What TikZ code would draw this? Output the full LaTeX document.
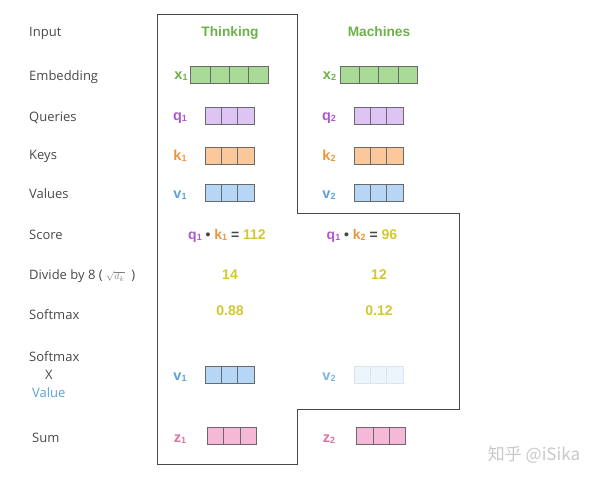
\documentclass[tikz,border=0pt]{standalone}
\usepackage{fontspec}
\setmainfont{Open Sans}
\newfontfamily\boldface{Liberation Sans}[BoldFont={Liberation Sans Bold}]
\newfontfamily\cjkfont{Noto Sans CJK SC}
\usetikzlibrary{positioning}

\definecolor{labelgray}{RGB}{72,72,72}
\definecolor{wordgreen}{RGB}{106,178,72}
\definecolor{xfill}{RGB}{170,218,152}
\definecolor{qtext}{RGB}{170,90,202}
\definecolor{qfill}{RGB}{222,196,245}
\definecolor{ktext}{RGB}{234,150,62}
\definecolor{kfill}{RGB}{250,200,155}
\definecolor{vtext}{RGB}{90,160,222}
\definecolor{vfill}{RGB}{182,214,246}
\definecolor{vfaint}{RGB}{236,244,252}
\definecolor{vfaintline}{RGB}{218,228,240}
\definecolor{ztext}{RGB}{224,112,160}
\definecolor{zfill}{RGB}{245,184,214}
\definecolor{numcol}{RGB}{208,200,48}
\definecolor{cellline}{RGB}{105,105,105}
\definecolor{markgray}{RGB}{200,200,200}

% one row of cells: name, left x, centre y, number of cells, cell width, fill, line
\newcommand{\cellrow}[7]{%
  \foreach \i in {1,...,#4}
    \node[cell,fill=#6,draw=#7,minimum width=#5pt] (#1-\i) at ({#2+(\i-0.5)*#5},#3) {};
}
% small index sitting on the baseline
\newcommand{\idx}[1]{\raisebox{-1pt}{\fontsize{9}{9}\selectfont #1}}

\begin{document}
\begin{tikzpicture}[x=1pt,y=-1pt]
\tikzstyle{rowlabel}=[anchor=west,inner sep=0pt,text=labelgray,font=\fontsize{13}{15}\selectfont,text height=9.5pt,text depth=0pt]
\tikzstyle{word}=[inner sep=0pt,text=wordgreen,font=\boldface\bfseries\fontsize{13.7}{16}\selectfont,text height=9.8pt,text depth=0pt]
\tikzstyle{veclabel}=[inner sep=0pt,font=\boldface\bfseries\fontsize{14.5}{16}\selectfont,text height=7.5pt,text depth=0pt]
\tikzstyle{num}=[inner sep=0pt,text=numcol,font=\boldface\bfseries\fontsize{14}{16}\selectfont,text height=10pt,text depth=0pt]
\tikzstyle{cell}=[rectangle,minimum height=17pt,inner sep=0pt,outer sep=0pt,line width=0.8pt]
\useasboundingbox (0,0) rectangle (600,478);

% row labels
\node[rowlabel] (input) at (29,31.5) {Input};
\node[rowlabel] (embed) at (29,75.5) {Embedding};
\node[rowlabel] (queries) at (29,116.5) {Queries};
\node[rowlabel] (keys) at (29,155) {Keys};
\node[rowlabel] (values) at (29,194) {Values};
\node[rowlabel] (score) at (29,234.5) {Score};
\node[rowlabel] (divide) at (29,275) {Divide by 8 ( {\color{gray}\fontsize{10}{10}\selectfont$\sqrt{d_k}$} \ )};
\node[rowlabel] (softmax) at (29,315) {Softmax};
\node[rowlabel] (smx) at (29,357) {Softmax};
\node[rowlabel,anchor=center] (times) at (49,374.7) {X};
\node[rowlabel,text=vtext] (value) at (32,392.7) {Value};
\node[rowlabel] (sum) at (32,437.7) {Sum};

% outline of the first word
\draw[line width=1pt,draw=labelgray] (157,15) -- (297,15) -- (297,214) -- (459,214)
  -- (459,409) -- (297,409) -- (297,464) -- (157,464) -- cycle;

% words
\node[word] (thinking) at (230,31.5) {Thinking};
\node[word] (machines) at (379,31.5) {Machines};

% vectors of word 1
\node[veclabel,text=wordgreen] (x1) at (181,76) {x\idx{1}};
\cellrow{xa}{190.7}{74.8}{4}{19.3}{xfill}{cellline}
\node[veclabel,text=qtext] (q1) at (180,117) {q\idx{1}};
\cellrow{qa}{205}{115.5}{3}{16.3}{qfill}{cellline}
\node[veclabel,text=ktext] (k1) at (180,157) {k\idx{1}};
\cellrow{ka}{205}{156.2}{3}{16.3}{kfill}{cellline}
\node[veclabel,text=vtext] (v1) at (180,194.5) {v\idx{1}};
\cellrow{va}{205}{192.8}{3}{16.3}{vfill}{cellline}

% vectors of word 2
\node[veclabel,text=wordgreen] (x2) at (329.5,76) {x\idx{2}};
\cellrow{xb}{340}{74.8}{4}{19.3}{xfill}{cellline}
\node[veclabel,text=qtext] (q2) at (329,117) {q\idx{2}};
\cellrow{qb}{354}{115.5}{3}{16.3}{qfill}{cellline}
\node[veclabel,text=ktext] (k2) at (329,157) {k\idx{2}};
\cellrow{kb}{354}{156.2}{3}{16.3}{kfill}{cellline}
\node[veclabel,text=vtext] (v2) at (329,194.5) {v\idx{2}};
\cellrow{vb}{354}{192.8}{3}{16.3}{vfill}{cellline}

% scores
\node[num,text=labelgray] (scorea) at (227,235) {{\color{qtext}q\idx{1}}\ \textbullet\ {\color{ktext}k\idx{1}} = {\color{numcol}112}};
\node[num,text=labelgray] (scoreb) at (362,235) {{\color{qtext}q\idx{1}}\ \textbullet\ {\color{ktext}k\idx{2}} = {\color{numcol}96}};
\node[num] (diva) at (230,275) {14};
\node[num] (divb) at (379,275) {12};
\node[num] (softa) at (230,311) {0.88};
\node[num] (softb) at (379,311) {0.12};

% weighted values
\node[veclabel,text=vtext] (wv1) at (180,377) {v\idx{1}};
\cellrow{wa}{205}{375}{3}{16.3}{vfill}{cellline}
\node[veclabel,text=vtext!80] (wv2) at (329,377) {v\idx{2}};
\cellrow{wb}{354}{375}{3}{16.3}{vfaint}{vfaintline}

% sums
\node[veclabel,text=ztext] (z1) at (180,438.5) {z\idx{1}};
\cellrow{za}{207.3}{436.2}{3}{16.3}{zfill}{cellline}
\node[veclabel,text=ztext] (z2) at (329,438.5) {z\idx{2}};
\cellrow{zb}{356.7}{436.2}{3}{16.3}{zfill}{cellline}

% watermark
\node[inner sep=0pt,text=markgray,font=\cjkfont\fontsize{17}{20}\selectfont] (mark) at (534,455) {知乎 @iSika};
\end{tikzpicture}
\end{document}
